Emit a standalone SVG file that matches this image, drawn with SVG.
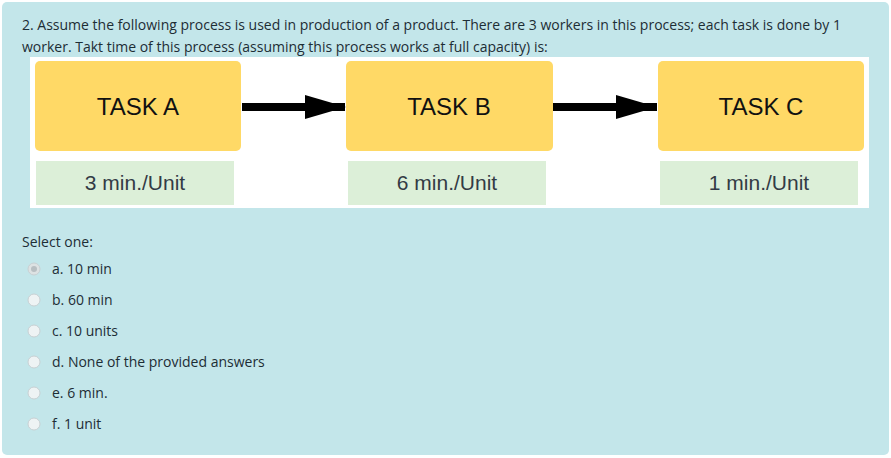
<svg xmlns="http://www.w3.org/2000/svg" width="891" height="458" viewBox="0 0 891 458">
<style>
.q{font-family:"Open Sans","Noto Sans",sans-serif;font-size:14px;fill:#1d2d35}
.task{fill:#ffd966;}
.tt{font-family:"Liberation Sans",Arial,sans-serif;font-size:24px;fill:#111;text-anchor:middle}
.lab{fill:#dcefd8}
.lt{font-family:"Liberation Sans",Arial,sans-serif;font-size:21px;fill:#333b45;text-anchor:middle}
.r{fill:#eef3f4;stroke:#c8d0d3;stroke-width:1}
</style>
<defs><marker id="ah" markerWidth="10" markerHeight="6" refX="0" refY="3" orient="auto" markerUnits="userSpaceOnUse" viewBox="0 0 10 6"><path d="M0,0L10,3L0,6z" fill="#000"/></marker></defs>
<rect x="2" y="2" width="887" height="453" rx="5" fill="#c3e6ea"/>
<text class="q" x="22" y="30">2. Assume the following process is used in production of a product. There are 3 workers in this process; each task is done by 1</text>
<text class="q" x="22" y="52">worker. Takt time of this process (assuming this process works at full capacity) is:</text>
<rect x="30" y="57" width="839" height="151" fill="#fff"/>
<g id="connectors">
<path d="M242,107H345" stroke="#000" stroke-width="8"/><path d="M305,95L346,107L305,119z" fill="#000"/>
<path d="M553,107H657" stroke="#000" stroke-width="8"/><path d="M616,95L657,107L616,119z" fill="#000"/>
</g>
<g id="taskA"><rect class="task" x="35" y="61" width="206" height="90" rx="5"/><text class="tt" x="138" y="115">TASK A</text>
<rect class="lab" x="36" y="161" width="198" height="44"/><text class="lt" x="135" y="190">3 min./Unit</text></g>
<g id="taskB"><rect class="task" x="346" y="61" width="207" height="90" rx="5"/><text class="tt" x="449" y="115">TASK B</text>
<rect class="lab" x="348" y="161" width="198" height="44"/><text class="lt" x="447" y="190">6 min./Unit</text></g>
<g id="taskC"><rect class="task" x="658" y="61" width="206" height="90" rx="5"/><text class="tt" x="761" y="115">TASK C</text>
<rect class="lab" x="660" y="161" width="198" height="44"/><text class="lt" x="759" y="190">1 min./Unit</text></g>
<text class="q" x="22" y="247">Select one:</text>
<circle cx="34" cy="269" r="6" fill="#dde2e3" stroke="#c8d0d3"/><circle cx="34" cy="269" r="3" fill="#b8bfc2"/>
<text class="q" x="52" y="274">a. 10 min</text>
<circle class="r" cx="34" cy="300" r="6"/><text class="q" x="52" y="305">b. 60 min</text>
<circle class="r" cx="34" cy="331" r="6"/><text class="q" x="52" y="336">c. 10 units</text>
<circle class="r" cx="34" cy="362" r="6"/><text class="q" x="52" y="367">d. None of the provided answers</text>
<circle class="r" cx="34" cy="393" r="6"/><text class="q" x="52" y="398">e. 6 min.</text>
<circle class="r" cx="34" cy="424" r="6"/><text class="q" x="52" y="429">f. 1 unit</text>
</svg>
